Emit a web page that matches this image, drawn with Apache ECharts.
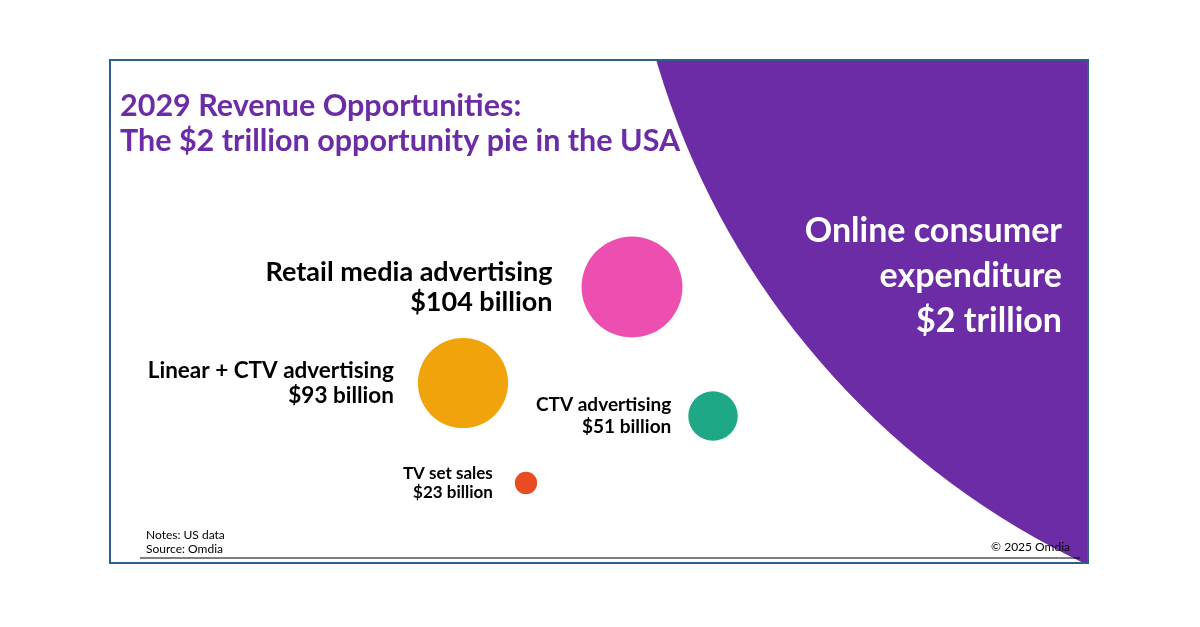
<!DOCTYPE html>
<html>
<head>
<meta charset="utf-8">
<script src="https://cdn.jsdelivr.net/npm/echarts@6/dist/echarts.min.js"></script>
<style>
  html, body { margin: 0; padding: 0; background: #fff; }
  #chart { width: 1200px; height: 627px; }
</style>
</head>
<body>
<div id="chart"></div>
<script>
// bubble layout in frame units (0..976 across, 0..501 down)
const names = ["Retail media advertising", "Linear + CTV advertising", "CTV advertising", "TV set sales"];
const values = ["$104 billion", "$93 billion", "$51 billion", "$23 billion"];
const amounts = [104, 93, 51, 23];
const posX = [521, 352, 602, 415];
const posY = [226, 322, 355, 422];
const colors = ["#ec4fb0", "#f0a30a", "#1fa885", "#e84c22"];
const labelSizes = [27, 22.5, 19, 17];
const labelGaps = [29, 24, 17, 22];

const big = { x: 1321, y: -227, r: 808, color: "#6b2ca6" };

const chart = echarts.init(document.getElementById("chart"));

function clipRect(params) {
  const c = params.coordSys;
  return { type: "rect", shape: { x: c.x, y: c.y, width: c.width, height: c.height } };
}

chart.setOption({
  animation: false,
  grid: { left: 111, top: 61, width: 976, height: 501 },
  xAxis: { type: "value", min: 0, max: 976, show: false },
  yAxis: { type: "value", min: 0, max: 501, inverse: true, show: false },
  series: [
    {
      type: "custom",
      z: 1,
      data: [[big.x, big.y, big.r]],
      renderItem: (params, api) => {
        const p = api.coord([api.value(0), api.value(1)]);
        return {
          type: "group",
          clipPath: clipRect(params),
          children: [{ type: "circle", shape: { cx: p[0], cy: p[1], r: api.value(2) }, style: { fill: big.color } }],
        };
      },
    },
    {
      type: "custom",
      z: 2,
      data: amounts.map((v, i) => [posX[i], posY[i], v, i]),
      renderItem: (params, api) => {
        const i = api.value(3);
        const p = api.coord([api.value(0), api.value(1)]);
        const r = api.value(2) * 0.485;
        const fs = labelSizes[i];
        return {
          type: "group",
          children: [
            { type: "circle", shape: { cx: p[0], cy: p[1], r: r }, style: { fill: colors[i] } },
            {
              type: "text",
              x: p[0] - r - labelGaps[i],
              y: p[1],
              style: {
                text: names[i] + "\n" + values[i],
                align: "right",
                verticalAlign: "middle",
                fill: "#000",
                font: "bold " + fs + "px Lato, sans-serif",
                lineHeight: fs * 1.12,
              },
            },
          ],
        };
      },
    },
  ],
  graphic: [
    { type: "rect", z: 100, shape: { x: 110, y: 60, width: 978, height: 503 }, style: { fill: "none", stroke: "#2e5f8a", lineWidth: 2 } },
    { type: "line", z: 100, shape: { x1: 140, y1: 558, x2: 1080, y2: 558 }, style: { stroke: "#000", lineWidth: 1 } },
    {
      type: "text", z: 100, left: 120, top: 89,
      style: { text: "2029 Revenue Opportunities:\nThe $2 trillion opportunity pie in the USA", fill: "#6b2ca6", font: "bold 30.5px Lato, sans-serif", lineHeight: 35 },
    },
    {
      type: "text", z: 100, x: 1062, y: 276,
      style: { text: "Online consumer\nexpenditure\n$2 trillion", align: "right", verticalAlign: "middle", fill: "#fff", font: "bold 34px Lato, sans-serif", lineHeight: 45 },
    },
    { type: "text", z: 100, left: 146, top: 528, style: { text: "Notes: US data\nSource: Omdia", fill: "#000", font: "12px Lato, sans-serif", lineHeight: 14 } },
    { type: "text", z: 100, x: 1070, y: 547, style: { text: "© 2025 Omdia", align: "right", verticalAlign: "middle", fill: "#000", font: "12px Lato, sans-serif" } },
  ],
});
</script>
</body>
</html>
